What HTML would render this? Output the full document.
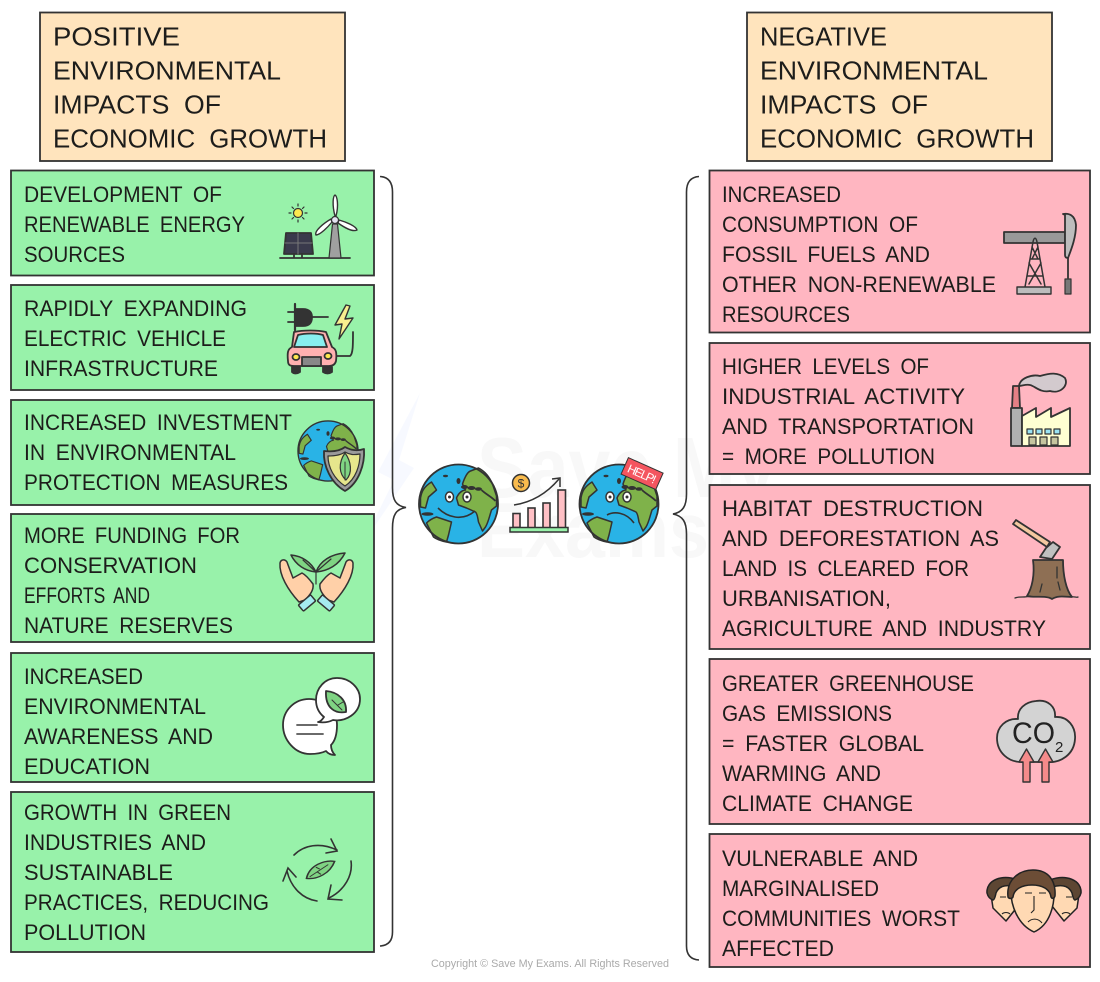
<!DOCTYPE html>
<html><head><meta charset="utf-8"><title>Environmental impacts of economic growth</title>
<style>
html,body{margin:0;padding:0;background:#fff}
svg{display:block}
.h{font:26px "Liberation Sans",sans-serif;fill:#1d1d1b;word-spacing:7px}
.t{font:22px "Liberation Sans",sans-serif;fill:#1d1d1b;word-spacing:5px}
.i{stroke:#333;stroke-width:1.8;stroke-linejoin:round;stroke-linecap:round}
</style></head><body>
<svg width="1100" height="982" viewBox="0 0 1100 982" xmlns="http://www.w3.org/2000/svg">
<defs>
<g id="earth">
<circle r="39.500" fill="#29b3e6"/>
<path d="M-2-6C0-11 4-14 7-14L4-20C6-26 9-32 12-33L20-36C26-33 31-27 34-20L38-8 38 2 33 6C31 12 30 18 27 23L24 27 20 18C19 13 19 10 17 8L8 4 0 1Z" fill="#7fb24a" stroke="#333" stroke-width="1.500" stroke-linejoin="round"/>
<path d="M-38-6C-37-12-35-17-27-22L-22-14-30-7-33 4-38 3Z" fill="#7fb24a" stroke="#333" stroke-width="1.500" stroke-linejoin="round"/>
<path d="M-32 19C-29 16-25 14-22 13L-7 18-10 31-12 38C-17 37-21 36-25 33Z" fill="#7fb24a" stroke="#333" stroke-width="1.500" stroke-linejoin="round"/>
<g fill="#333"><ellipse cx="6" cy="-17" rx="3.500" ry="2"/><ellipse cx="13" cy="-16" rx="4" ry="2"/><ellipse cx="20" cy="-15" rx="3.500" ry="1.800"/><ellipse cx="0" cy="-23" rx="2" ry="3"/><ellipse cx="-13" cy="-28" rx="2.500" ry="1.200"/><ellipse cx="-31" cy="10" rx="6" ry="1.800"/></g>
<path d="M23-14C27-10 32-8 37-3" fill="none" stroke="#333" stroke-width="1.800"/>
<circle r="39.500" fill="none" stroke="#333" stroke-width="1.800"/>
</g>
<g id="leaf"><path d="M-13 6C-8-8 6-10 14-6 8 6-4 10-13 6Z" fill="#7fd483" stroke="#333" stroke-width="1.500"/><path d="M-10 5 8-4M-3 1 0 5M0-1-3-4" fill="none" stroke="#333" stroke-width="1"/></g>
</defs>
<rect width="1100" height="982" fill="#fff"/>

<!-- watermark -->
<path d="M420 393 378 472 394 480 362 545 414 468 399 460Z" fill="#f7f9ff"/>
<text x="477" y="497" font-family="Liberation Sans,sans-serif" font-weight="bold" font-size="85" fill="#f8f8f8" textLength="300" lengthAdjust="spacingAndGlyphs">Save My</text>
<text x="477" y="557" font-family="Liberation Sans,sans-serif" font-weight="bold" font-size="78" fill="#f8f8f8" textLength="232" lengthAdjust="spacingAndGlyphs">Exams</text>

<!-- headings -->
<g fill="#ffe4bd" stroke="#333" stroke-width="1.800">
<rect x="40" y="12.500" width="305" height="148.500"/>
<rect x="747" y="12.500" width="305" height="148.500"/>
</g>
<!-- left boxes -->
<g fill="#98f2aa" stroke="#333" stroke-width="1.800">
<rect x="11" y="170.500" width="363" height="105"/>
<rect x="11" y="285" width="363" height="105"/>
<rect x="11" y="400" width="363" height="105"/>
<rect x="11" y="514" width="363" height="128"/>
<rect x="11" y="653" width="363" height="129"/>
<rect x="11" y="792" width="363" height="160"/>
</g>
<!-- right boxes -->
<g fill="#ffb6c1" stroke="#333" stroke-width="1.800">
<rect x="709.500" y="170.500" width="380.500" height="162"/>
<rect x="709.500" y="343" width="380.500" height="131"/>
<rect x="709.500" y="485" width="380.500" height="164"/>
<rect x="709.500" y="659" width="380.500" height="165"/>
<rect x="709.500" y="834" width="380.500" height="133"/>
</g>

<!-- braces -->
<path d="M380 176.500C388 177 392.500 182 392.500 192V488C392.500 500 396 506 406 507.500 396 509 392.500 515 392.500 528V932C392.500 941 388 945.500 380 946" fill="none" stroke="#333" stroke-width="1.600"/>
<path d="M699 176.500C691 177 686.500 182 686.500 192V494C686.500 506 683 512 673 514 683 516 686.500 522 686.500 534V946C686.500 955 691 959.500 699 960" fill="none" stroke="#333" stroke-width="1.600"/>

<!-- heading text -->
<g class="h">
<text x="53" y="45.500" textLength="127" lengthAdjust="spacingAndGlyphs">POSITIVE</text>
<text x="53" y="79.500" textLength="228" lengthAdjust="spacingAndGlyphs">ENVIRONMENTAL</text>
<text x="53" y="113.500" textLength="168" lengthAdjust="spacingAndGlyphs">IMPACTS OF</text>
<text x="53" y="147.500" textLength="274" lengthAdjust="spacingAndGlyphs">ECONOMIC GROWTH</text>
<text x="760" y="45.500" textLength="127" lengthAdjust="spacingAndGlyphs">NEGATIVE</text>
<text x="760" y="79.500" textLength="228" lengthAdjust="spacingAndGlyphs">ENVIRONMENTAL</text>
<text x="760" y="113.500" textLength="168" lengthAdjust="spacingAndGlyphs">IMPACTS OF</text>
<text x="760" y="147.500" textLength="274" lengthAdjust="spacingAndGlyphs">ECONOMIC GROWTH</text>
</g>
<!-- left text -->
<g class="t">
<text x="24" y="202" textLength="198" lengthAdjust="spacingAndGlyphs">DEVELOPMENT OF</text>
<text x="24" y="232" textLength="221" lengthAdjust="spacingAndGlyphs">RENEWABLE ENERGY</text>
<text x="24" y="262" textLength="101" lengthAdjust="spacingAndGlyphs">SOURCES</text>
<text x="24" y="316" textLength="223" lengthAdjust="spacingAndGlyphs">RAPIDLY EXPANDING</text>
<text x="24" y="346" textLength="202" lengthAdjust="spacingAndGlyphs">ELECTRIC VEHICLE</text>
<text x="24" y="376" textLength="194" lengthAdjust="spacingAndGlyphs">INFRASTRUCTURE</text>
<text x="24" y="430" textLength="268" lengthAdjust="spacingAndGlyphs">INCREASED INVESTMENT</text>
<text x="24" y="460" textLength="212" lengthAdjust="spacingAndGlyphs">IN ENVIRONMENTAL</text>
<text x="24" y="490" textLength="264" lengthAdjust="spacingAndGlyphs">PROTECTION MEASURES</text>
<text x="24" y="543" textLength="216" lengthAdjust="spacingAndGlyphs">MORE FUNDING FOR</text>
<text x="24" y="573" textLength="173" lengthAdjust="spacingAndGlyphs">CONSERVATION</text>
<text x="24" y="603" textLength="126" lengthAdjust="spacingAndGlyphs">EFFORTS AND</text>
<text x="24" y="633" textLength="209" lengthAdjust="spacingAndGlyphs">NATURE RESERVES</text>
<text x="24" y="684" textLength="119" lengthAdjust="spacingAndGlyphs">INCREASED</text>
<text x="24" y="714" textLength="182" lengthAdjust="spacingAndGlyphs">ENVIRONMENTAL</text>
<text x="24" y="744" textLength="189" lengthAdjust="spacingAndGlyphs">AWARENESS AND</text>
<text x="24" y="774" textLength="126" lengthAdjust="spacingAndGlyphs">EDUCATION</text>
<text x="24" y="820" textLength="207" lengthAdjust="spacingAndGlyphs">GROWTH IN GREEN</text>
<text x="24" y="850" textLength="182" lengthAdjust="spacingAndGlyphs">INDUSTRIES AND</text>
<text x="24" y="880" textLength="149" lengthAdjust="spacingAndGlyphs">SUSTAINABLE</text>
<text x="24" y="910" textLength="245" lengthAdjust="spacingAndGlyphs">PRACTICES, REDUCING</text>
<text x="24" y="940" textLength="122" lengthAdjust="spacingAndGlyphs">POLLUTION</text>
</g>
<!-- right text -->
<g class="t">
<text x="722" y="202" textLength="119" lengthAdjust="spacingAndGlyphs">INCREASED</text>
<text x="722" y="232" textLength="196" lengthAdjust="spacingAndGlyphs">CONSUMPTION OF</text>
<text x="722" y="262" textLength="208" lengthAdjust="spacingAndGlyphs">FOSSIL FUELS AND</text>
<text x="722" y="292" textLength="274" lengthAdjust="spacingAndGlyphs">OTHER NON-RENEWABLE</text>
<text x="722" y="322" textLength="128" lengthAdjust="spacingAndGlyphs">RESOURCES</text>
<text x="722" y="374" textLength="207" lengthAdjust="spacingAndGlyphs">HIGHER LEVELS OF</text>
<text x="722" y="404" textLength="243" lengthAdjust="spacingAndGlyphs">INDUSTRIAL ACTIVITY</text>
<text x="722" y="434" textLength="252" lengthAdjust="spacingAndGlyphs">AND TRANSPORTATION</text>
<text x="722" y="464" textLength="213" lengthAdjust="spacingAndGlyphs">= MORE POLLUTION</text>
<text x="722" y="516" textLength="261" lengthAdjust="spacingAndGlyphs">HABITAT DESTRUCTION</text>
<text x="722" y="546" textLength="277" lengthAdjust="spacingAndGlyphs">AND DEFORESTATION AS</text>
<text x="722" y="576" textLength="247" lengthAdjust="spacingAndGlyphs">LAND IS CLEARED FOR</text>
<text x="722" y="606" textLength="169" lengthAdjust="spacingAndGlyphs">URBANISATION,</text>
<text x="722" y="636" textLength="324" lengthAdjust="spacingAndGlyphs">AGRICULTURE AND INDUSTRY</text>
<text x="722" y="691" textLength="252" lengthAdjust="spacingAndGlyphs">GREATER GREENHOUSE</text>
<text x="722" y="721" textLength="170" lengthAdjust="spacingAndGlyphs">GAS EMISSIONS</text>
<text x="722" y="751" textLength="202" lengthAdjust="spacingAndGlyphs">= FASTER GLOBAL</text>
<text x="722" y="781" textLength="159" lengthAdjust="spacingAndGlyphs">WARMING AND</text>
<text x="722" y="811" textLength="191" lengthAdjust="spacingAndGlyphs">CLIMATE CHANGE</text>
<text x="722" y="866" textLength="196" lengthAdjust="spacingAndGlyphs">VULNERABLE AND</text>
<text x="722" y="896" textLength="157" lengthAdjust="spacingAndGlyphs">MARGINALISED</text>
<text x="722" y="926" textLength="238" lengthAdjust="spacingAndGlyphs">COMMUNITIES WORST</text>
<text x="722" y="956" textLength="112" lengthAdjust="spacingAndGlyphs">AFFECTED</text>
</g>

<!-- centre -->
<use href="#earth" x="458.500" y="504"/>
<use href="#earth" x="619" y="504"/>
<g fill="#fff" stroke="#333" stroke-width="1.500">
<ellipse cx="449.500" cy="497" rx="4" ry="5"/><ellipse cx="467" cy="497" rx="4" ry="5"/>
<ellipse cx="610" cy="497" rx="4" ry="5"/><ellipse cx="627" cy="497" rx="4" ry="5"/>
</g>
<circle cx="449.500" cy="497" r="1.500" fill="#333"/><circle cx="467" cy="497" r="1.500" fill="#333"/>
<circle cx="610" cy="497" r="1.500" fill="#333"/><circle cx="627" cy="497" r="1.500" fill="#333"/>
<path d="M438 508C447 517 462 522 475 511" fill="none" stroke="#333" stroke-width="1.600"/>
<path d="M607 515C614 511 626 512 634 523" fill="none" stroke="#333" stroke-width="1.600"/>
<g transform="rotate(24 643 474)"><rect x="623" y="465" width="38" height="18" fill="#f4555f" stroke="#333" stroke-width="1"/><text x="642" y="478.500" text-anchor="middle" font-family="Liberation Sans,sans-serif" font-size="12" fill="#fff" textLength="30">HELP!</text></g>
<g fill="#ffc0c5" stroke="#333" stroke-width="1.600">
<rect x="513" y="513.500" width="7" height="14"/>
<rect x="528" y="508" width="7" height="20"/>
<rect x="543" y="503" width="7" height="25"/>
<rect x="558" y="490" width="7.500" height="38"/>
</g>
<rect x="510" y="527.500" width="58" height="4.500" fill="#98f2aa" stroke="#333" stroke-width="1.500"/>
<path d="M514 505C534 502 548 492 559 479" fill="none" stroke="#333" stroke-width="1.500"/>
<path d="M552 479 560 478 560 487" fill="none" stroke="#333" stroke-width="1.500"/>
<circle cx="521" cy="483" r="8.500" fill="#f9bb4d" stroke="#333" stroke-width="1.500"/>
<text x="521" y="487.500" text-anchor="middle" font-family="Liberation Sans,sans-serif" font-size="12" fill="#333">$</text>

<!-- renewable icon -->
<g class="i">
<circle cx="298" cy="213" r="4.500" fill="#fde84f" stroke-width="1.200"/>
<path d="M298 204v2M298 220v2M289 213h2M305 213h2M292 207l1.500 1.500M304 207l-1.500 1.500M292 219l1.500-1.500M304 219l-1.500-1.500" fill="none" stroke-width="1.200"/>
<path d="M286 233H311L313 254H284Z" fill="#3a3a4c"/>
<path d="M298 233V254M285 243H312" stroke="#777" stroke-width="1" fill="none"/>
<path d="M294 254V258M302 254V258M280 258H350" fill="none"/>
<path d="M332.500 224H337.500L341 258H329Z" fill="#a0a0a0" stroke-width="1.200"/>
<path d="M335 216C332 205 333 196 335 195 337 196 339 205 336 216ZM339 220C346 222 356 226 357 230 353 232 345 228 338 223ZM332 222C328 227 320 235 316 235 314 231 324 223 331 219Z" fill="#fff" stroke-width="1.400"/>
<circle cx="335" cy="220" r="3.500" fill="#e3e3f0" stroke-width="1.200"/>
</g>

<!-- EV icon -->
<g class="i">
<path d="M295 304V330" fill="none" stroke-width="2.200"/>
<path d="M295 309H303C310 309 312 313 312 317 312 322 310 326 303 326H295Z" fill="#333"/>
<path d="M288 312H295M288 322H295M312 317H328" fill="none"/>
<path d="M346 305 335 325 342 324 339 339 353 318 345 319 350 306Z" fill="#f8ef8f" stroke-width="1.400"/>
<path d="M294 332C303 330 318 330 326 332L332 347C336 349 337 352 336 361 335 365 332 366 329 366H294C290 366 288 365 288 361 287 352 288 349 292 347Z" fill="#ffb0b0"/>
<path d="M298 335C305 333 317 333 323 335L327 347H294Z" fill="#87efef"/>
<rect x="302" y="357" width="19" height="9" fill="#888"/>
<ellipse cx="296" cy="357" rx="3.500" ry="3" fill="#fde84f"/><ellipse cx="328" cy="356" rx="3.500" ry="3" fill="#fde84f"/>
<path d="M292 367H300V372C297 374 294 374 292 372ZM323 367H332V372C329 374 326 374 323 372Z" fill="#333"/>
<path d="M337 356H350C353 354 353 345 353 332" fill="none"/>
</g>

<!-- shield globe -->
<use href="#earth" transform="translate(328 451) scale(.76)"/>
<g class="i">
<path d="M345 447C352 451 358 451 364 449 365 464 359 483 345 491 331 483 323 466 324 451 333 452 340 451 345 447Z" fill="#9a9a9a"/>
<path d="M345 452C350 455 354 455 360 454 360 465 356 479 345 486 334 479 328 467 328 456 335 456 341 455 345 452Z" fill="#e6e68c" stroke-width="1.200"/>
<path d="M345 453C338 463 339 474 346 480 353 473 351 461 345 453Z" fill="#7fd483" stroke-width="1.200"/>
<path d="M345 462V480" fill="none" stroke-width="1"/>
</g>

<!-- hands icon -->
<g class="i">
<path d="M280 563C279 575 288 590 299 602L305 600C310 595 314 590 313 584 310 580 306 575 302 573L293 578C290 570 288 565 287 562 285 559 281 559 280 563Z" fill="#ffd0a8" stroke-width="1.500"/>
<path d="M353 563C354 575 345 590 334 602L328 600C323 595 319 590 320 584 323 580 327 575 331 573L340 578C343 570 345 565 346 562 348 559 352 559 353 563Z" fill="#ffd0a8" stroke-width="1.500"/>
<rect x="299" y="599" width="16" height="8" rx="1" fill="#a5ebf0" stroke-width="1.500" transform="rotate(-40 307 603)"/>
<rect x="318" y="599" width="16" height="8" rx="1" fill="#a5ebf0" stroke-width="1.500" transform="rotate(40 326 603)"/>
<path d="M316 572C311 562 302 556 291 555 296 565 305 571 316 572ZM316 572C320 561 331 554 345 553 339 565 328 571 316 572Z" fill="#7fd483" stroke-width="1.500"/>
<path d="M316 572V584M316 572 303 560M316 572 331 559" fill="none" stroke-width="1.200"/>
</g>

<!-- speech icon -->
<g class="i">
<path d="M309 699C295 699 283 710 283 725 283 740 295 754 310 754 316 754 322 753 326 751 329 755 333 755 335 755 332 752 331 749 331 745 336 740 337 731 337 725 337 710 323 699 309 699Z" fill="#fff"/>
<path d="M337 678C325 678 316 688 316 700 316 707 319 713 324 717 322 720 320 722 318 722 324 723 329 722 333 720 345 722 360 714 360 699 360 688 350 678 337 678Z" fill="#fff"/>
<path d="M297 725H317M297 734H323" fill="none" stroke="#555"/>
<path d="M326 691C338 692 347 700 346 712 335 714 325 708 326 691Z" fill="#7fd483"/>
<path d="M332 700 342 710M338 705 343 702" fill="none" stroke-width="1"/>
</g>

<!-- recycle icon -->
<g fill="none" stroke="#333" stroke-width="1.600" stroke-linecap="round">
<path d="M294 855C304 845 320 842 337 850M331 839 337 851 326 853"/>
<path d="M351 861C353 875 345 890 329 898M331 885 328 899 342 900"/>
<path d="M317 901C303 899 291 888 287 871M283 881 288 868 296 877"/>
</g>
<use href="#leaf" transform="translate(320 870) rotate(-12) scale(1.150 .9)"/>

<!-- pump icon -->
<g class="i">
<rect x="1004" y="232" width="61" height="11" fill="#999"/>
<path d="M1063 214C1069 213 1075 215 1076 225 1076 238 1071 250 1068 258 1066 258 1065 257 1065 255V215Z" fill="#bdbdbd"/>
<path d="M1068 258V278" fill="none"/>
<rect x="1065" y="279" width="6" height="15" fill="#777" stroke-width="1.200"/>
<path d="M1025 287 1033 242C1034 237 1036 237 1037 242L1045 287M1030 259H1040M1027 276H1043M1029 263 1041 284M1041 263 1029 284M1032 247 1038 259M1038 247 1032 259" fill="none" stroke-width="1.500"/>
<rect x="1017" y="287" width="34" height="7" fill="#bdbdbd" stroke-width="1.400"/>
</g>

<!-- factory -->
<g class="i">
<path d="M1019 386H1013L1012 408H1020Z" fill="#e57f85"/>
<path d="M1019 386C1020 378 1032 374 1040 376 1050 373 1058 372 1065 378 1069 386 1060 394 1050 391 1040 393 1035 386 1030 385 1026 384 1022 386 1019 386Z" fill="#d3cace"/>
<rect x="1011" y="408" width="11" height="38" fill="#b0b0b0"/>
<path d="M1022 446V416L1036 408V417L1051 408V417L1070 408V446Z" fill="#ffffd2"/>
<g stroke-width="1.200"><rect x="1027" y="429" width="6" height="5" fill="#9be4f4"/><rect x="1036" y="429" width="6" height="5" fill="#9be4f4"/><rect x="1045" y="429" width="6" height="5" fill="#9be4f4"/><rect x="1054" y="429" width="6" height="5" fill="#9be4f4"/>
<rect x="1029" y="437" width="7" height="8" fill="#c5c59f"/><rect x="1040" y="437" width="7" height="8" fill="#c5c59f"/><rect x="1051" y="437" width="7" height="8" fill="#c5c59f"/></g>
</g>

<!-- stump -->
<g class="i">
<path d="M1013 524 1016 520 1050 542 1047 547Z" fill="#f3c8a0"/>
<path d="M1053 542 1060 547 1052 559 1040 557 1046 548Z" fill="#c0c0c0"/>
<path d="M1033 560H1063C1063 575 1066 590 1072 597 1066 597 1058 595 1052 599 1046 595 1034 598 1027 596 1032 588 1035 575 1033 560Z" fill="#8e6f54"/>
<path d="M1015 598C1020 596 1024 598 1030 596M1070 597C1074 596 1076 598 1078 597M1057 567V578M1042 584 1040 592M1058 582 1060 590" fill="none" stroke-width="1.300"/>
</g>

<!-- CO2 -->
<g class="i">
<path d="M1036 701C1048 699 1056 707 1055 717 1068 716 1076 727 1075 739 1074 755 1060 763 1048 762H1024C1008 763 997 752 997 738 997 727 1006 718 1018 719 1017 709 1025 702 1036 701Z" fill="#d3d3d3"/>
<text x="1012" y="743" font-family="Liberation Sans,sans-serif" font-size="30" fill="#222" stroke="none" textLength="43" lengthAdjust="spacingAndGlyphs">CO</text>
<text x="1055" y="752" font-family="Liberation Sans,sans-serif" font-size="15" fill="#222" stroke="none">2</text>
<path d="M1023 782V762H1019L1026.500 749 1034 762H1030V782ZM1042 782V762H1038L1045.500 749 1053 762H1049V782Z" fill="#f48a8a" stroke-width="1.400"/>
</g>

<!-- faces -->
<g stroke="#222" stroke-width="1.500" stroke-linejoin="round">
<path d="M990 888C995 878 1010 876 1018 882V906L1006 921 993 908Z" fill="#ffd9b3"/>
<path d="M987 893C986 880 1002 874 1018 880L1016 887C1006 884 999 886 996 893 995 898 994 900 993 900 990 899 988 897 987 893Z" fill="#5d4633"/>
<path d="M1080 888C1075 878 1060 876 1052 882V906L1064 921 1077 908Z" fill="#ffd9b3"/>
<path d="M1081 893C1082 880 1066 874 1050 880L1052 887C1062 884 1069 886 1072 893 1073 898 1074 900 1075 900 1078 899 1080 897 1081 893Z" fill="#5d4633"/>
<path d="M1011 888C1014 880 1050 878 1054 888 1055 905 1050 925 1034 932 1018 925 1010 905 1011 888Z" fill="#ffd9b3"/>
<path d="M1008 897C1006 880 1019 870 1033 870 1048 870 1056 880 1055 896 1054 899 1052 899 1051 897 1050 889 1042 885 1032 885 1022 885 1014 889 1013 897 1012 899 1009 899 1008 897Z" fill="#6c4d36"/>
<path d="M1025 893h7M1039 893h7M1034 896V910L1031 913M1028 922C1032 918 1038 918 1042 923M1000 897h6M1066 897h6M1002 914C1004 912 1008 912 1010 914M1062 914C1064 912 1068 912 1070 914" fill="none" stroke-width="1.100"/>
</g>

<text x="431" y="967" font-family="Liberation Sans,sans-serif" font-size="11" fill="#aaa" textLength="238" lengthAdjust="spacingAndGlyphs">Copyright © Save My Exams. All Rights Reserved</text>
</svg>
</body></html>
